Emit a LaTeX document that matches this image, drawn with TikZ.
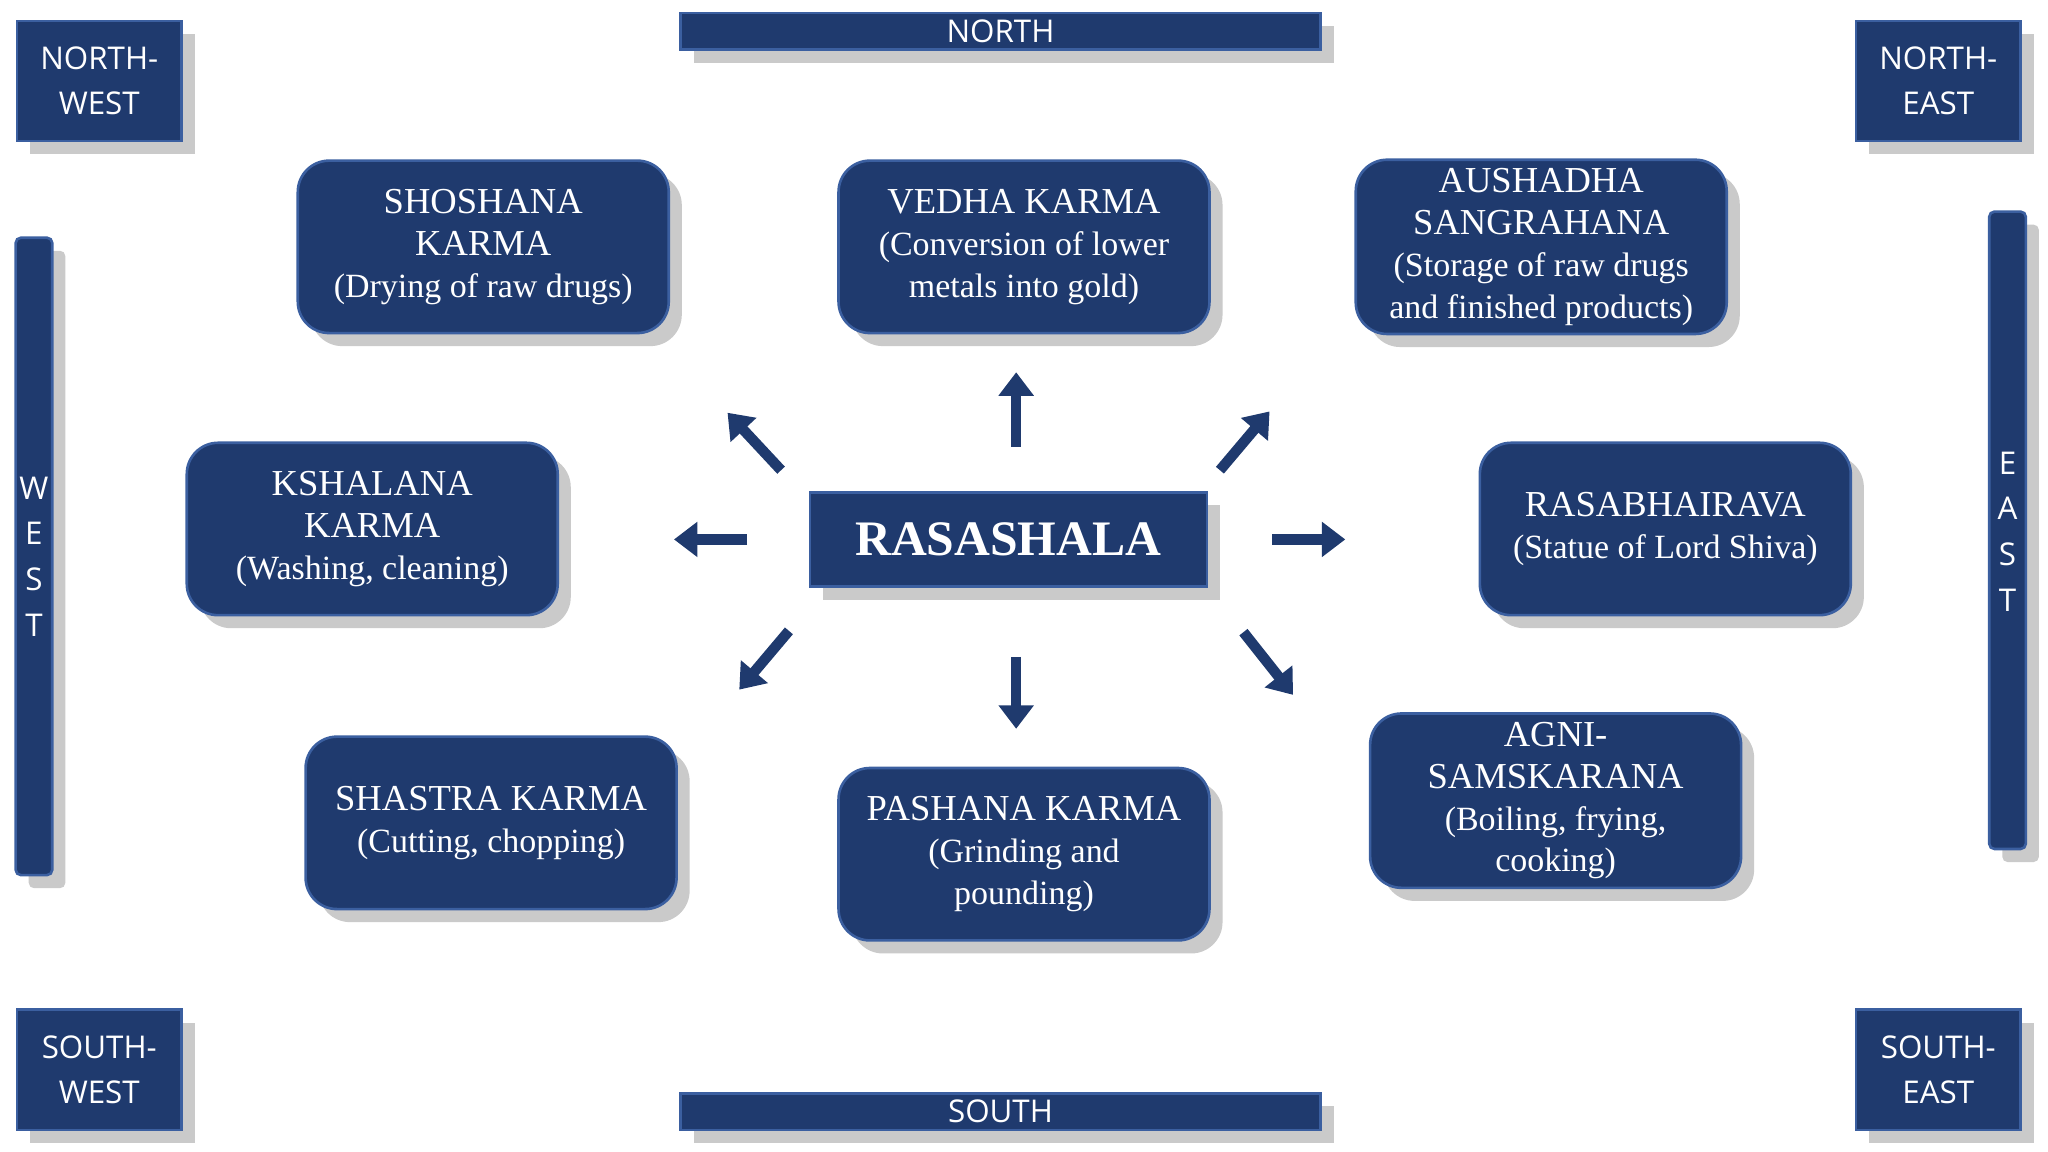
\documentclass[tikz,border=0pt]{standalone}
\usepackage{fontspec}
\setmainfont{Liberation Serif}
\newfontfamily\labfont{Open Sans}
\usetikzlibrary{shadows,arrows.meta}
\definecolor{navy}{HTML}{1F3A6E}
\definecolor{edge}{HTML}{3B5FA0}
\tikzset{
  x=0.5pt,y=-0.5pt,
  sh/.style={drop shadow={shadow xshift=5pt,shadow yshift=-5pt,opacity=0.35,fill=black!60}},
  rbox/.style={sh,fill=navy,draw=edge,line width=1pt,rounded corners=12pt,text=white,align=center,font=\fontsize{14}{16}\selectfont},
  sbox/.style={sh,fill=navy,draw=edge,line width=1pt,text=white,align=center,font=\labfont\fontsize{12}{17}\selectfont},
  blk/.style={draw=navy,line width=4pt,-{Triangle[length=9pt,width=13pt]}},
}
\begin{document}
\begin{tikzpicture}
\useasboundingbox (0,0) rectangle (1568,882);
% direction bars
\node[sbox,minimum width=245pt,minimum height=14pt,inner sep=0pt] (north) at (766,24) {NORTH};
\node[sbox,minimum width=245pt,minimum height=14pt,inner sep=0pt] (south) at (766,851) {SOUTH};
\node[sbox,minimum width=63pt,minimum height=46pt] (nw) at (76,62) {NORTH-\\WEST};
\node[sbox,minimum width=63pt,minimum height=46pt] (ne) at (1484,62) {NORTH-\\EAST};
\node[sbox,minimum width=63pt,minimum height=46pt] (sw) at (76,819) {SOUTH-\\WEST};
\node[sbox,minimum width=63pt,minimum height=46pt] (se) at (1484,819) {SOUTH-\\EAST};
\node[sbox,minimum width=14pt,minimum height=244pt,inner sep=0pt,rounded corners=2pt] (west) at (26,426) {};
\node[sbox,minimum width=14pt,minimum height=244pt,inner sep=0pt,rounded corners=2pt] (east) at (1537,406) {};
\node[text=white,font=\labfont\fontsize{12}{17.5}\selectfont,align=center] (wl) at (26,426) {W\\E\\S\\T};
\node[text=white,font=\labfont\fontsize{12}{17.5}\selectfont,align=center] (el) at (1537,407) {E\\A\\S\\T};
% boxes
\node[rbox,minimum width=142pt,minimum height=66pt] (sho) at (370,189) {SHOSHANA\\KARMA\\{\fontsize{13}{16}\selectfont(Drying of raw drugs)}};
\node[rbox,minimum width=142pt,minimum height=66pt] (ved) at (784,189) {VEDHA KARMA\\{\fontsize{13}{16}\selectfont(Conversion of lower}\\{\fontsize{13}{16}\selectfont metals into gold)}};
\node[rbox,minimum width=142pt,minimum height=66pt] (aus) at (1180,189) {AUSHADHA\\SANGRAHANA\\{\fontsize{13}{16}\selectfont(Storage of raw drugs}\\{\fontsize{13}{16}\selectfont and finished products)}};
\node[rbox,minimum width=142pt,minimum height=66pt] (ksh) at (285,405) {KSHALANA\\KARMA\\{\fontsize{13}{16}\selectfont(Washing, cleaning)}};
\node[rbox,minimum width=142pt,minimum height=66pt] (rbh) at (1275,405) {RASABHAIRAVA\\{\fontsize{13}{16}\selectfont(Statue of Lord Shiva)}};
\node[rbox,minimum width=142pt,minimum height=66pt] (sha) at (376,630) {SHASTRA KARMA\\{\fontsize{13}{16}\selectfont(Cutting, chopping)}};
\node[rbox,minimum width=142pt,minimum height=66pt] (pas) at (784,654) {PASHANA KARMA\\{\fontsize{13}{16}\selectfont(Grinding and}\\{\fontsize{13}{16}\selectfont pounding)}};
\node[rbox,minimum width=142pt,minimum height=66pt] (agn) at (1191,613) {AGNI-\\SAMSKARANA\\{\fontsize{13}{16}\selectfont(Boiling, frying,}\\{\fontsize{13}{16}\selectfont cooking)}};
\node[sh,fill=navy,draw=edge,line width=1pt,text=white,minimum width=152pt,minimum height=36pt,font=\bfseries\fontsize{19}{22}\selectfont] (ras) at (772,413) {RASASHALA};
% arrows
\coordinate (a1s) at (778,342); \coordinate (a1e) at (778,285);
\coordinate (a2s) at (598,360); \coordinate (a2e) at (557,316);
\coordinate (a3s) at (572,413); \coordinate (a3e) at (516,413);
\coordinate (a4s) at (934,360); \coordinate (a4e) at (972,315);
\coordinate (a5s) at (974,413); \coordinate (a5e) at (1030,413);
\coordinate (a6s) at (604,483); \coordinate (a6e) at (566,528);
\coordinate (a7s) at (778,503); \coordinate (a7e) at (778,558);
\coordinate (a8s) at (952,484); \coordinate (a8e) at (990,532);
\foreach \i in {1,...,8}{\draw[blk] (a\i s) -- (a\i e);}
\end{tikzpicture}
\end{document}
